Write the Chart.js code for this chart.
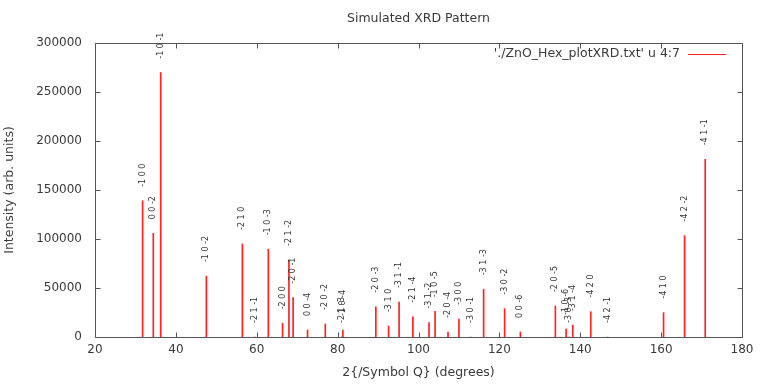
<!DOCTYPE html>
<html>
<head>
<meta charset="utf-8">
<script src="https://cdn.jsdelivr.net/npm/chart.js@4/dist/chart.umd.min.js"></script>
<style>
  html, body { margin: 0; padding: 0; background: #ffffff; }
  #wrap { width: 768px; height: 384px; }
</style>
</head>
<body>
<div id="wrap"><canvas id="c" width="768" height="384"></canvas></div>
<script>
// ---- data ----
const angles = [31.77, 34.42, 36.25, 47.54, 56.45, 59.5, 62.86, 66.38, 67.96, 69.0,
                72.56, 76.95, 81.0, 81.3, 89.45, 92.6, 95.2, 98.6, 102.6, 104.1,
                107.3, 110.0, 112.9, 116.1, 121.3, 125.2, 133.85, 136.5, 137.3, 138.15,
                142.6, 146.8, 160.6, 165.8, 170.9];
const intensities = [139000, 105800, 269700, 62200, 94900, 0, 89500, 14000, 78600, 40100,
                     7100, 13300, 0, 7100, 30900, 11200, 35700, 20700, 14600, 26200,
                     5100, 18400, 0, 48700, 28900, 5100, 31600, 8200, 0, 12200,
                     25800, 0, 24800, 103400, 181300];
const hklLabels = ['-1 0 0', '0 0 -2', '-1 0 -1', '-1 0 -2', '-2 1 0', '-2 1 -1', '-1 0 -3', '-2 0 0', '-2 1 -2', '-2 0 -1',
                   '0 0 -4', '-2 0 -2', '-2 1 -3', '-1 0 -4', '-2 0 -3', '-3 1 0', '-3 1 -1', '-2 1 -4', '-3 1 -2', '-1 0 -5',
                   '-2 0 -4', '-3 0 0', '-3 0 -1', '-3 1 -3', '-3 0 -2', '0 0 -6', '-2 0 -5', '-1 0 -6', '-3 0 -3', '-3 1 -4',
                   '-4 2 0', '-4 2 -1', '-4 1 0', '-4 2 -2', '-4 1 -1'];
const xTicks = [20, 40, 60, 80, 100, 120, 140, 160, 180];
const yTicks = [0, 50000, 100000, 150000, 200000, 250000, 300000];
const seriesName = "'./ZnO_Hex_plotXRD.txt' u 4:7";
const chartTitle = 'Simulated XRD Pattern';
const xTitle = '2{/Symbol Q} (degrees)';
const yTitle = 'Intensity (arb. units)';

const FONT = '"DejaVu Sans", "Liberation Sans", sans-serif';
const TEXT = '#3a3a3a';
const AXIS = '#555555';
const RED = '#ff2222';

const overlay = {
  id: 'overlay',
  afterDatasetsDraw(chart) {
    const { ctx, chartArea: a, scales: { x, y } } = chart;
    const L = Math.round(a.left) + 0.5, R = Math.round(a.right) + 0.5;
    const T = Math.round(a.top) + 0.5, B = Math.round(a.bottom) + 0.5;
    ctx.save();
    ctx.strokeStyle = AXIS;
    ctx.lineWidth = 1;
    ctx.beginPath();
    ctx.rect(L, T, R - L, B - T);
    // inward ticks on all four sides
    xTicks.forEach(v => {
      const px = Math.round(x.getPixelForValue(v)) + 0.5;
      ctx.moveTo(px, B); ctx.lineTo(px, B - 5);
      ctx.moveTo(px, T); ctx.lineTo(px, T + 5);
    });
    yTicks.forEach(v => {
      const py = Math.round(y.getPixelForValue(v)) + 0.5;
      ctx.moveTo(L, py); ctx.lineTo(L + 5, py);
      ctx.moveTo(R, py); ctx.lineTo(R - 5, py);
    });
    ctx.stroke();

    // peak labels (rotated)
    ctx.fillStyle = '#333333';
    ctx.font = '8px ' + FONT;
    angles.forEach((ang, i) => {
      const px = x.getPixelForValue(ang);
      const py = y.getPixelForValue(intensities[i]);
      ctx.save();
      ctx.translate(px, py - 14);
      ctx.rotate(-Math.PI / 2);
      ctx.textAlign = 'left';
      ctx.textBaseline = 'middle';
      ctx.fillText(hklLabels[i], 0, 0);
      ctx.restore();
    });

    // title
    ctx.fillStyle = TEXT;
    ctx.font = '12.5px ' + FONT;
    ctx.textAlign = 'center';
    ctx.textBaseline = 'middle';
    ctx.fillText(chartTitle, (a.left + a.right) / 2, 19);

    // key (gnuplot style: text then line sample)
    ctx.textAlign = 'right';
    ctx.fillText(seriesName, 680, 54);
    ctx.strokeStyle = RED;
    ctx.beginPath();
    ctx.moveTo(688, 54.5); ctx.lineTo(726, 54.5);
    ctx.stroke();
    ctx.restore();
  }
};

new Chart(document.getElementById('c'), {
  type: 'bar',
  data: {
    datasets: [{
      label: seriesName,
      data: angles.map((a, i) => ({ x: a, y: intensities[i] })),
      backgroundColor: RED,
      borderWidth: 0,
      barThickness: 1
    }]
  },
  options: {
    responsive: false,
    animation: false,
    devicePixelRatio: 1,
    layout: { padding: { top: 43, right: 26, bottom: 0, left: 0 } },
    plugins: { legend: { display: false }, title: { display: false }, tooltip: { enabled: false } },
    scales: {
      x: {
        type: 'linear',
        offset: false,
        min: 20, max: 180,
        afterBuildTicks: s => { s.ticks = xTicks.map(v => ({ value: v })); },
        afterFit: s => { s.height = 47; },
        grid: { display: false, drawTicks: false },
        border: { display: false },
        ticks: { padding: 6, color: TEXT, font: { family: FONT, size: 12 }, maxRotation: 0, autoSkip: false },
        title: { display: true, text: xTitle, color: TEXT, font: { family: FONT, size: 12.5 }, padding: { top: 0, bottom: 4 } }
      },
      y: {
        min: 0, max: 300000,
        afterBuildTicks: s => { s.ticks = yTicks.map(v => ({ value: v })); },
        afterFit: s => { s.width = 95; },
        grid: { display: false, drawTicks: false },
        border: { display: false },
        ticks: { padding: 13, color: TEXT, font: { family: FONT, size: 12 }, callback: v => String(v) },
        title: { display: true, text: yTitle, color: TEXT, font: { family: FONT, size: 12.5 }, padding: { top: 2, bottom: 2 } }
      }
    }
  },
  plugins: [overlay]
});
</script>
</body>
</html>
